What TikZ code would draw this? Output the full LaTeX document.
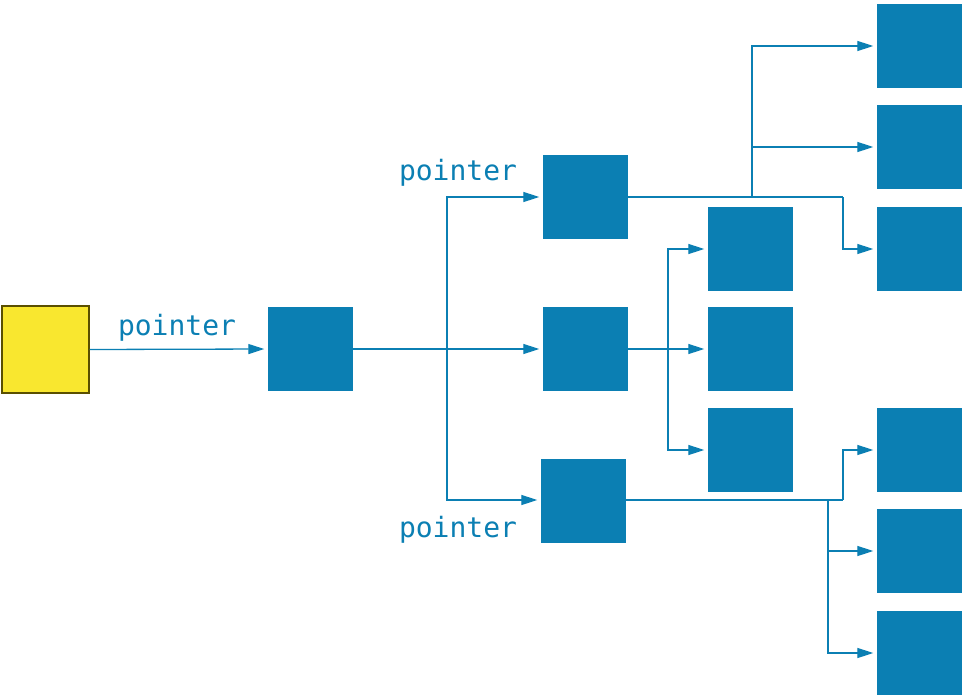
\documentclass[tikz,border=0pt]{standalone}
\usepackage{fontspec}
\newfontfamily\monof{DejaVu Sans Mono}
\usetikzlibrary{arrows.meta}
\definecolor{bl}{HTML}{0B7FB3}
\definecolor{yl}{HTML}{F9E72F}
\definecolor{yd}{HTML}{5A4F00}
\begin{document}
\begin{tikzpicture}[x=1pt,y=-1pt,
  bx/.style={fill=bl,draw=none,minimum width=85pt,minimum height=84pt,inner sep=0pt},
  ln/.style={draw=bl,line width=1.3pt},
  ar/.style={ln,-{Triangle[length=16pt,width=10pt]},shorten >=3pt},
  lbl/.style={text=bl,font=\monof\fontsize{28}{30}\selectfont,inner sep=0pt}]
\useasboundingbox (0,0) rectangle (965,698);
\node[fill=yl,draw=yd,line width=1.2pt,minimum width=87pt,minimum height=87pt,inner sep=0pt] (Y) at (45.5,349.5) {};
\node[bx] (A) at (310,349) {};
\node[bx] (B) at (585,197) {};
\node[bx] (C) at (585,349) {};
\node[bx] (D) at (583,501) {};
\node[bx] (E1) at (750,249) {};
\node[bx] (E2) at (750,349) {};
\node[bx] (E3) at (750,450) {};
\node[bx] (F1) at (919,46) {};
\node[bx] (F2) at (919,147) {};
\node[bx] (F3) at (919,249) {};
\node[bx] (F4) at (919,450) {};
\node[bx] (F5) at (919,551) {};
\node[bx] (F6) at (919,653) {};
\node[lbl] (l1) at (177,328) {pointer};
\node[lbl] (l2) at (458,173) {pointer};
\node[lbl] (l3) at (458,530) {pointer};
\draw[ar] (Y.east) -- (A.west);
\coordinate (s1) at (447,349);
\draw[ln] (A.east) -- (s1);
\draw[ar] (s1) -- (C.west);
\draw[ar] (s1) |- (B.west);
\draw[ar] (s1) |- (D.west |- 0,500);
% B fan
\coordinate (s2) at (752,197);
\coordinate (s3) at (843,197);
\draw[ln] (B.east) -- (s3);
\draw[ar] (s2) |- (F1.west);
\draw[ar] (s2) |- (F2.west);
\draw[ar] (s3) |- (F3.west);
% C fan
\coordinate (s4) at (668,349);
\draw[ar] (C.east) -- (E2.west);
\draw[ar] (s4) |- (E1.west);
\draw[ar] (s4) |- (E3.west);
% D fan
\coordinate (s5) at (828,500);
\coordinate (s6) at (843,500);
\draw[ln] (D.east |- 0,500) -- (s6);
\draw[ar] (s6) |- (F4.west);
\draw[ar] (s5) |- (F5.west);
\draw[ar] (s5) |- (F6.west);
\end{tikzpicture}
\end{document}
